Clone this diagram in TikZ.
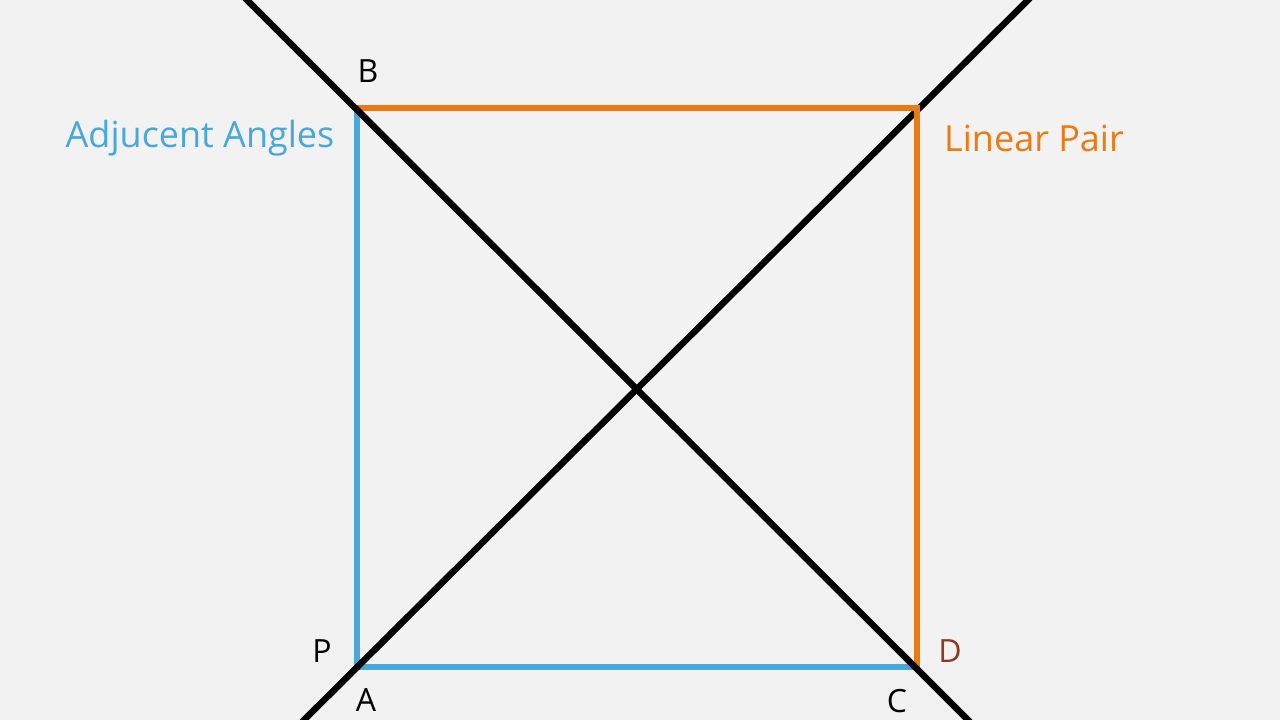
\documentclass[tikz,border=0pt]{standalone}
\usepackage{fontspec}
\setmainfont{Open Sans}
\definecolor{bg}{HTML}{F2F2F2}
\definecolor{cblue}{HTML}{48A8DC}
\definecolor{corange}{HTML}{EC7A12}
\definecolor{cbrown}{HTML}{8E3A1C}
\tikzset{
  blueline/.style={cblue, line width=5.5pt, line cap=rect},
  orangeline/.style={corange, line width=5.5pt, line cap=rect},
  blackline/.style={black, line width=6.5pt},
  ptlabel/.style={font=\fontsize{32}{34}\selectfont, text=black, inner sep=0pt},
  title/.style={font=\fontsize{36}{40}\selectfont, inner sep=0pt},
}
\begin{document}
\begin{tikzpicture}[x=1pt,y=-1pt]
\fill[bg] (0,0) rectangle (1280,720);
\useasboundingbox (0,0) rectangle (1280,720);
\coordinate (TL) at (357,108);
\coordinate (TR) at (917,108);
\coordinate (BL) at (357,667);
\coordinate (BR) at (917,667);
\coordinate (L1s) at (245,-2);
\coordinate (L1e) at (970,722);
\coordinate (L2s) at (1030,-2);
\coordinate (L2e) at (302,722);
\draw[blueline] (TL) -- (BL) -- (BR);
\draw[orangeline] (TL) -- (TR) -- (BR);
\draw[blackline] (L1s) -- (L1e);
\draw[blackline] (L2s) -- (L2e);
\draw[orangeline, line cap=butt] ([xshift=-10pt]TR) -- (TR) -- ([yshift=-12pt]TR);
\node[ptlabel] (B) at (368,71) {B};
\node[ptlabel] (P) at (322,651) {P};
\node[ptlabel] (A) at (366,700) {A};
\node[ptlabel] (C) at (897,701) {C};
\node[ptlabel, text=cbrown] (D) at (950,651) {D};
\node[title, text=cblue] (adj) at (200,138) {Adjucent Angles};
\node[title, text=corange] (lin) at (1034,138) {Linear Pair};
\end{tikzpicture}
\end{document}
